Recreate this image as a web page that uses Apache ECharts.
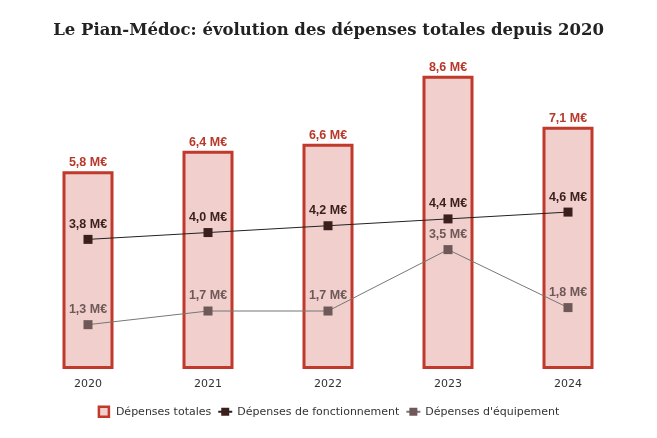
<!DOCTYPE html>
<html>
<head>
<meta charset="utf-8">
<script src="https://cdn.jsdelivr.net/npm/echarts@6/dist/echarts.min.js"></script>
<style>
  html, body { margin: 0; padding: 0; background: #fff; }
  #chart { width: 657px; height: 438px; }
</style>
</head>
<body>
<div id="chart"></div>
<script>
const years = ['2020', '2021', '2022', '2023', '2024'];
const totales = [5.8, 6.4, 6.6, 8.6, 7.1];
const fonctionnement = [3.8, 4.0, 4.2, 4.4, 4.6];
const equipement = [1.3, 1.7, 1.7, 3.5, 1.8];

const fmt = p => p.value.toFixed(1).replace('.', ',') + ' M€';

const chart = echarts.init(document.getElementById('chart'));
chart.setOption({
    animation: false,
    title: {
        text: 'Le Pian-Médoc: évolution des dépenses totales depuis 2020',
        left: 'center',
        top: 17,
        textStyle: { fontFamily: 'DejaVu Serif', fontWeight: 'bold', fontSize: 16.5, color: '#222' }
    },
    grid: { left: 28, right: 29, top: 62, bottom: 69 },
    legend: {
        bottom: 15,
        left: 'center',
        itemWidth: 14,
        itemHeight: 10,
        itemGap: 6,
        textStyle: { fontFamily: 'DejaVu Sans', fontSize: 11, color: '#333' },
        data: [
            { name: 'Dépenses totales', icon: 'path://M0,0H10V10H0Z', itemStyle: { color: '#f0cfcc', borderColor: '#c0392b', borderWidth: 2.5 } },
            'Dépenses de fonctionnement',
            'Dépenses d\'équipement'
        ]
    },
    xAxis: {
        type: 'category',
        data: years,
        axisLine: { show: false },
        axisTick: { show: false },
        axisLabel: { margin: 10, fontFamily: 'DejaVu Sans', fontSize: 11, color: '#333' }
    },
    yAxis: {
        type: 'value',
        min: 0,
        max: 9,
        show: false,
        splitLine: { show: false }
    },
    series: [
        {
            name: 'Dépenses totales',
            type: 'bar',
            data: totales,
            barWidth: 51,
            itemStyle: { color: '#f0cfcc', borderColor: '#c0392b', borderWidth: 3 },
            label: {
                show: true, position: 'top', distance: 2, formatter: fmt,
                fontFamily: 'Liberation Sans', fontWeight: 'bold', fontSize: 12.5, color: '#b8382a'
            }
        },
        {
            name: 'Dépenses de fonctionnement',
            type: 'line',
            data: fonctionnement,
            symbol: 'rect',
            symbolSize: 9,
            itemStyle: { color: '#3b1f1c' },
            lineStyle: { color: '#222', width: 1 },
            label: {
                show: true, position: 'top', distance: 4, formatter: fmt,
                fontFamily: 'Liberation Sans', fontWeight: 'bold', fontSize: 12.5, color: '#3b1f1c'
            }
        },
        {
            name: 'Dépenses d\'équipement',
            type: 'line',
            data: equipement,
            symbol: 'rect',
            symbolSize: 9,
            itemStyle: { color: '#6e5858' },
            lineStyle: { color: '#777', width: 1 },
            label: {
                show: true, position: 'top', distance: 4, formatter: fmt,
                fontFamily: 'Liberation Sans', fontWeight: 'bold', fontSize: 12.5, color: '#6e5858'
            }
        }
    ]
});
</script>
</body>
</html>
